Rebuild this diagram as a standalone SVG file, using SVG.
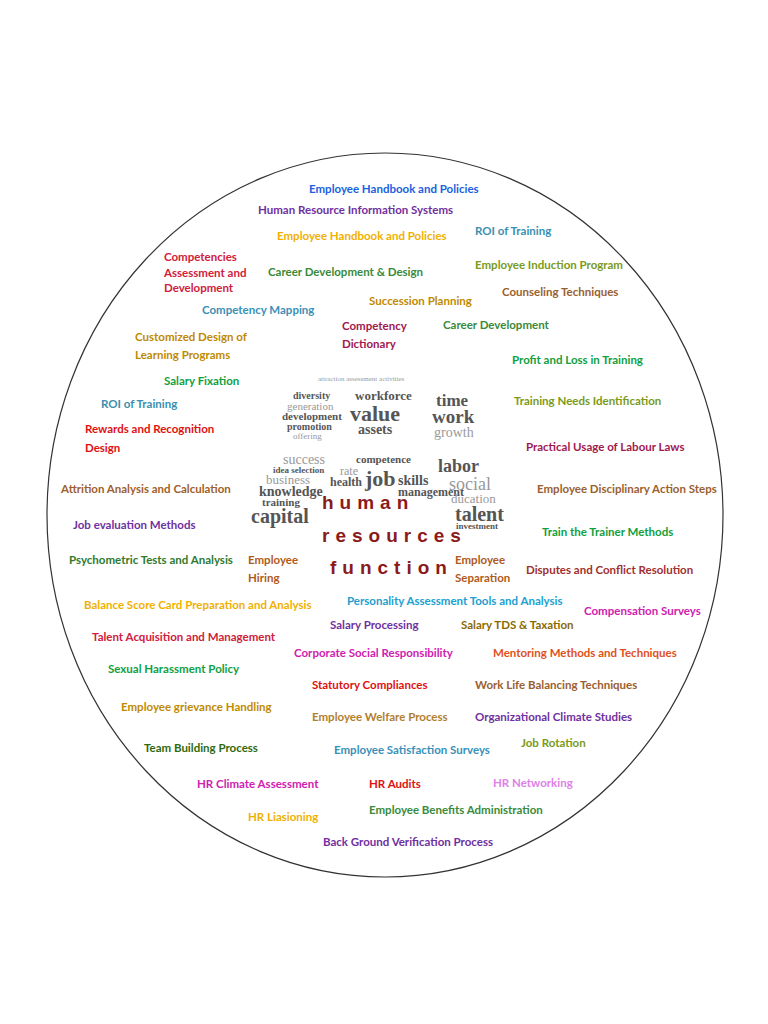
<svg xmlns="http://www.w3.org/2000/svg" width="768" height="1024" viewBox="0 0 768 1024">
<style>
text{font-family:Lato,"Open Sans",sans-serif;font-weight:bold}
#labels text{font-size:11.5px}
.w{font-family:"Liberation Serif",serif;font-weight:bold;fill:#555}
.g{font-family:"Liberation Serif",serif;fill:#999;font-weight:normal}
.hr{font-family:"Liberation Sans",sans-serif;font-weight:bold;font-size:19px;fill:#8b1a1a;letter-spacing:6px}
</style>
<rect width="768" height="1024" fill="#fff"/>
<ellipse cx="385" cy="515" rx="338" ry="362" fill="none" stroke="#333" stroke-width="1.2"/>
<g id="cloud">
<text class="g" x="318" y="381" font-size="7">attraction   assessment  activities</text>
<text class="w" x="293" y="399" font-size="10">diversity</text>
<text class="g" x="287" y="410" font-size="11">generation</text>
<text class="w" x="282" y="420" font-size="11">development</text>
<text class="w" x="287" y="430" font-size="10">promotion</text>
<text class="g" x="293" y="439" font-size="9">offering</text>
<text class="w" x="355" y="400" font-size="13">workforce</text>
<text class="w" x="350" y="421" font-size="22">value</text>
<text class="w" x="358" y="434" font-size="14">assets</text>
<text class="w" x="436" y="406" font-size="17">time</text>
<text class="w" x="432" y="423" font-size="19">work</text>
<text class="g" x="434" y="437" font-size="14">growth</text>
<text class="g" x="283" y="464" font-size="14">success</text>
<text class="w" x="273" y="473" font-size="9">idea selection</text>
<text class="g" x="266" y="484" font-size="13">business</text>
<text class="w" x="259" y="496" font-size="14">knowledge</text>
<text class="w" x="262" y="506" font-size="11">training</text>
<text class="w" x="251" y="523" font-size="20">capital</text>
<text class="w" x="356" y="463" font-size="11">competence</text>
<text class="g" x="340" y="475" font-size="12">rate</text>
<text class="w" x="330" y="486" font-size="12">health</text>
<text class="w" x="365" y="486" font-size="22">job</text>
<text class="w" x="398" y="485" font-size="14">skills</text>
<text class="w" x="398" y="496" font-size="12">management</text>
<text class="w" x="438" y="472" font-size="18">labor</text>
<text class="g" x="449" y="490" font-size="18">social</text>
<text class="g" x="451" y="503" font-size="13">ducation</text>
<text class="w" x="455" y="521" font-size="20">talent</text>
<text class="w" x="456" y="529" font-size="9">investment</text>
<text class="hr" x="322" y="509">human</text>
<text class="hr" x="322" y="542">resources</text>
<text class="hr" x="330" y="574">function</text>
</g>
<g id="labels">
<text x="309" y="193" fill="#1a5fe0">Employee Handbook and Policies</text>
<text x="258" y="214" fill="#7030a0">Human Resource Information Systems</text>
<text x="277" y="240" fill="#f0b000">Employee Handbook and Policies</text>
<text x="475" y="235" fill="#3a8fb0">ROI of Training</text>
<text x="164" y="261" fill="#d0203c">Competencies</text>
<text x="164" y="277" fill="#d0203c">Assessment and</text>
<text x="164" y="292" fill="#d0203c">Development</text>
<text x="268" y="276" fill="#3a8a3a">Career Development &amp; Design</text>
<text x="475" y="269" fill="#7a9a20">Employee Induction Program</text>
<text x="502" y="296" fill="#9a6030">Counseling Techniques</text>
<text x="369" y="305" fill="#c08a00">Succession Planning</text>
<text x="202" y="314" fill="#3a90b8">Competency Mapping</text>
<text x="342" y="330" fill="#a01850">Competency</text>
<text x="342" y="348" fill="#a01850">Dictionary</text>
<text x="443" y="329" fill="#3a8a3a">Career Development</text>
<text x="135" y="341" fill="#c08a00">Customized Design of</text>
<text x="135" y="359" fill="#c08a00">Learning Programs</text>
<text x="512" y="364" fill="#10a040">Profit and Loss in Training</text>
<text x="164" y="385" fill="#10a040">Salary Fixation</text>
<text x="101" y="408" fill="#3a8fb0">ROI of Training</text>
<text x="514" y="405" fill="#7a9a20">Training Needs Identification</text>
<text x="85" y="433" fill="#e01010">Rewards and Recognition</text>
<text x="85" y="452" fill="#e01010">Design</text>
<text x="526" y="451" fill="#a01850">Practical Usage of Labour Laws</text>
<text x="61" y="493" fill="#a0602a">Attrition Analysis and Calculation</text>
<text x="537" y="493" fill="#9a6030">Employee Disciplinary Action Steps</text>
<text x="73" y="529" fill="#7030a0">Job evaluation Methods</text>
<text x="542" y="536" fill="#10a040">Train the Trainer Methods</text>
<text x="69" y="564" fill="#2e7a2e">Psychometric Tests and Analysis</text>
<text x="248" y="564" fill="#b05a20">Employee</text>
<text x="248" y="582" fill="#b05a20">Hiring</text>
<text x="455" y="564" fill="#b05a20">Employee</text>
<text x="455" y="582" fill="#b05a20">Separation</text>
<text x="526" y="574" fill="#a03030">Disputes and Conflict Resolution</text>
<text x="84" y="609" fill="#f0b000">Balance Score Card Preparation and Analysis</text>
<text x="347" y="605" fill="#20a0d0">Personality Assessment Tools and Analysis</text>
<text x="584" y="615" fill="#d020b0">Compensation Surveys</text>
<text x="92" y="641" fill="#d0203c">Talent Acquisition and Management</text>
<text x="330" y="629" fill="#7030a0">Salary Processing</text>
<text x="461" y="629" fill="#8a6a00">Salary TDS &amp; Taxation</text>
<text x="108" y="673" fill="#10a040">Sexual Harassment Policy</text>
<text x="294" y="657" fill="#d020b0">Corporate Social Responsibility</text>
<text x="493" y="657" fill="#e05020">Mentoring Methods and Techniques</text>
<text x="312" y="689" fill="#e01010">Statutory Compliances</text>
<text x="475" y="689" fill="#9a6030">Work Life Balancing Techniques</text>
<text x="121" y="711" fill="#c08a00">Employee grievance Handling</text>
<text x="312" y="721" fill="#b08030">Employee Welfare Process</text>
<text x="475" y="721" fill="#7030a0">Organizational Climate Studies</text>
<text x="144" y="752" fill="#2e6a10">Team Building Process</text>
<text x="334" y="754" fill="#3a90b8">Employee Satisfaction Surveys</text>
<text x="521" y="747" fill="#7a9a20">Job Rotation</text>
<text x="197" y="788" fill="#d020b0">HR Climate Assessment</text>
<text x="369" y="788" fill="#e01010">HR Audits</text>
<text x="493" y="787" fill="#e080e8">HR Networking</text>
<text x="248" y="821" fill="#f0b000">HR Liasioning</text>
<text x="369" y="814" fill="#3a8a3a">Employee Benefits Administration</text>
<text x="323" y="846" fill="#7030a0">Back Ground Verification Process</text>
</g>
</svg>
